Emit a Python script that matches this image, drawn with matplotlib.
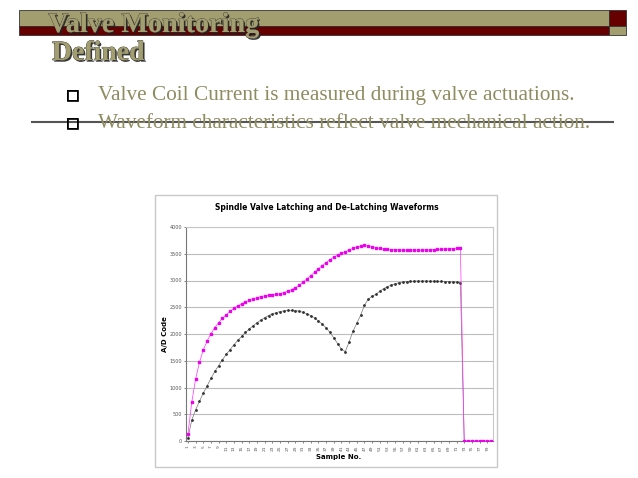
import matplotlib
matplotlib.use("Agg")
import matplotlib.pyplot as plt
import matplotlib.patheffects as pe
from matplotlib.patches import Rectangle
from matplotlib.lines import Line2D

# ---------------- data ----------------
samples = list(range(1, 81))
latch = [125, 725, 1155, 1470, 1700, 1870, 2005, 2120, 2210, 2290,
         2360, 2425, 2480, 2525, 2565, 2600, 2630, 2655, 2680, 2700,
         2712, 2722, 2730, 2742, 2755, 2775, 2800, 2830, 2865, 2910,
         2970, 3030, 3090, 3155, 3215, 3280, 3335, 3390, 3435, 3475,
         3510, 3540, 3570, 3600, 3625, 3645, 3655, 3650, 3635, 3615,
         3600, 3590, 3582, 3578, 3575, 3573, 3572, 3570, 3570, 3570,
         3570, 3572, 3573, 3575, 3577, 3580, 3583, 3587, 3592, 3598,
         3605, 3610, 0, 0, 0, 0, 0, 0, 0, 0]
delatch = [56, 390, 580, 740, 895, 1030, 1170, 1300, 1410, 1520,
           1620, 1710, 1800, 1880, 1955, 2030, 2095, 2155, 2210, 2260,
           2305, 2345, 2375, 2400, 2420, 2432, 2440, 2442, 2438, 2425,
           2405, 2378, 2345, 2300, 2245, 2185, 2115, 2030, 1930, 1820,
           1720, 1670, 1850, 2050, 2200, 2350, 2540, 2650, 2710, 2740,
           2800, 2850, 2885, 2915, 2940, 2958, 2970, 2978, 2985, 2988,
           2990, 2990, 2990, 2988, 2987, 2985, 2983, 2980, 2977, 2973,
           2968, 2962, 0, 0, 0, 0, 0, 0, 0, 0]
yticks = list(range(0, 4001, 500))
xtick_labels = [s for s in samples if s % 2 == 1]

title = "Valve Monitoring"
subtitle = "Defined"
bullets = ["Valve Coil Current is measured during valve actuations.",
           "Waveform characteristics reflect valve mechanical action."]
chart_title = "Spindle Valve Latching and De-Latching Waveforms"

W, H = 638, 478
OLIVE = "#a39e70"
DARKRED = "#660000"
TEXT_OLIVE = "#8f8c62"


def fx(x):
    return x / W


def fy(y):
    return 1 - y / H


def box(x0, y0, x1, y1, face, edge, lw, z=-5):
    r = Rectangle((fx(x0), fy(y1)), fx(x1) - fx(x0), fy(y0) - fy(y1),
                  transform=fig.transFigure, facecolor=face,
                  edgecolor=edge, lw=lw, zorder=z)
    fig.patches.append(r)


fig = plt.figure(figsize=(W / 100, H / 100), dpi=100)
fig.patch.set_facecolor("white")

# ---------------- slide header ----------------
box(19, 10, 609, 26, OLIVE, "#333333", 0.6)
box(19, 26, 609, 35, DARKRED, "#333333", 0.6)
box(609, 10, 626, 26, DARKRED, "#333333", 0.6)
box(609, 26, 626, 35, OLIVE, "#333333", 0.6)

shadow = [pe.withSimplePatchShadow(offset=(1.2, -1.2), shadow_rgbFace="#222222",
                                   alpha=0.9),
          pe.Stroke(linewidth=0.5, foreground="#333333"), pe.Normal()]
fig.text(fx(48), fy(32), title, fontsize=20.3, fontweight="bold",
         family="Liberation Serif", color=OLIVE, path_effects=shadow)
fig.text(fx(52), fy(60), subtitle, fontsize=20, fontweight="bold",
         family="Liberation Serif", color=OLIVE, path_effects=shadow)

# bullets
for i, b in enumerate(bullets):
    yb = 100 + i * 28
    fig.text(fx(66), fy(yb - 1), "\u25a1", fontsize=10, fontweight="bold",
             family="DejaVu Sans", color="black",
             path_effects=[pe.withStroke(linewidth=0.5, foreground="black")])
    fig.text(fx(98), fy(yb), b, fontsize=15.3, family="Liberation Serif",
             color=TEXT_OLIVE)
fig.lines.append(Line2D([fx(32), fx(613)], [fy(122), fy(122)],
                        transform=fig.transFigure, color="#555555", lw=1.5))

# ---------------- chart ----------------
box(155, 195, 497, 467, "white", "#c8c8c8", 1.0)
ax = fig.add_axes([fx(186), fy(441), fx(493) - fx(186), fy(227) - fy(441)])
ax.set_facecolor("white")

ax.plot(samples, delatch, "-", color="#777777", lw=0.5,
        marker="o", markersize=1.0, markerfacecolor="#333333",
        markeredgecolor="#333333", zorder=3)
ax.plot(samples, latch, "-", color="#ff33ff", lw=0.5,
        marker="s", markersize=1.5, markerfacecolor="#ee00ee",
        markeredgecolor="#ee00ee", zorder=4)

ax.set_xlim(0.5, 80.5)
ax.set_ylim(0, 4000)
ax.set_yticks(yticks)
ax.set_yticklabels([str(v) for v in yticks], fontsize=3.5, color="#333333")
ax.set_xticks(xtick_labels)
ax.set_xticklabels([str(v) for v in xtick_labels], fontsize=3.2,
                   rotation=90, color="#333333")
ax.tick_params(axis="both", length=1.5, width=0.5, pad=1.5, colors="#555555")
ax.grid(axis="y", color="#bdbdbd", lw=0.8)
ax.set_axisbelow(True)
for side in ["top", "right"]:
    ax.spines[side].set_color("#c8c8c8")
    ax.spines[side].set_linewidth(0.8)
for side in ["left", "bottom"]:
    ax.spines[side].set_color("#777777")
    ax.spines[side].set_linewidth(0.8)

fig.text(fx(327), fy(208), chart_title, fontsize=5.5, fontweight="bold",
         ha="center", va="center", color="black")
fig.text(fx(165), fy(334), "A/D Code", fontsize=5, fontweight="bold",
         rotation=90, ha="center", va="center", color="black")
fig.text(fx(339), fy(457), "Sample No.", fontsize=5, fontweight="bold",
         ha="center", va="center", color="black")

fig.savefig("out.png", dpi=100)
